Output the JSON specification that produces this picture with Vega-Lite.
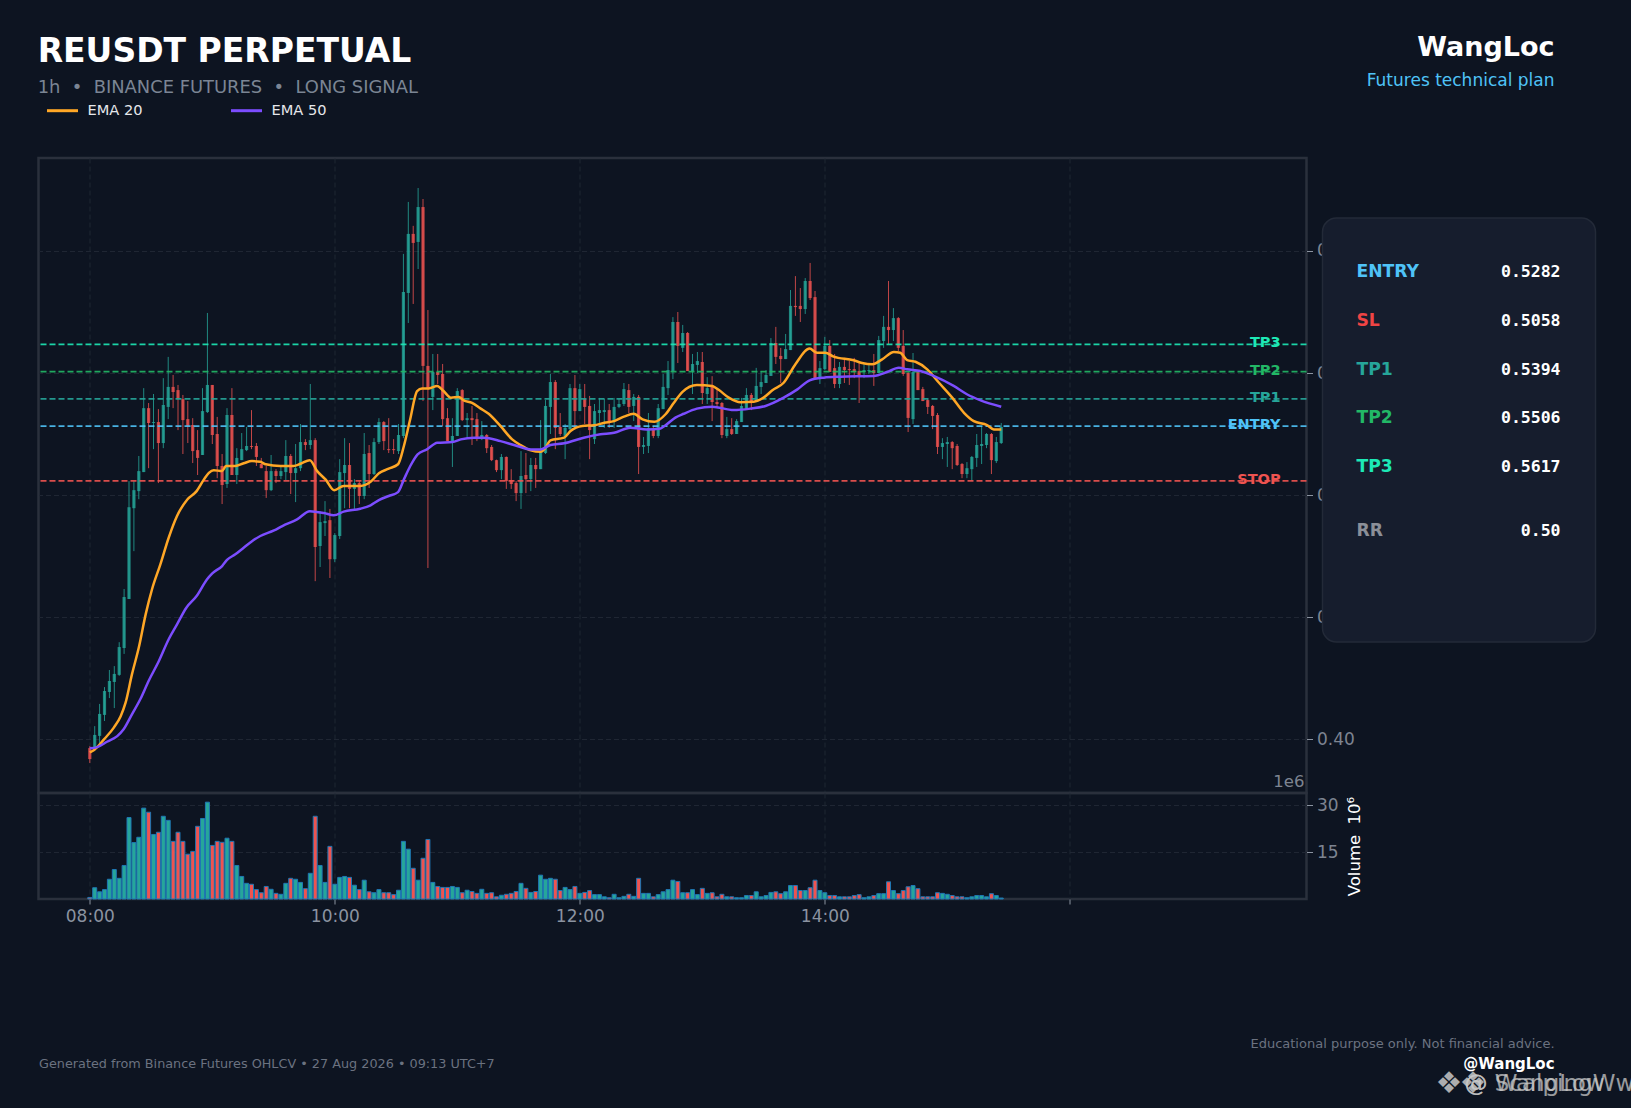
{
  "$schema": "https://vega.github.io/schema/vega-lite/v6.json",
  "background": "#0d1421",
  "padding": {"left": 35.5, "top": 34, "right": 6, "bottom": 7},
  "bounds": "flush",
  "spacing": 1284,
  "config": {
    "font": "DejaVu Sans",
    "view": {"stroke": null},
    "axis": {"domain": false, "gridColor": "#1f2633", "gridDash": [5, 3], "gridWidth": 1, "tickColor": "#8b93a0", "labelColor": "#7d8491", "labelFontSize": 17}
  },
  "datasets": {
    "bars": [
      {"i":0,"o":0.3963,"h":0.3971,"l":0.3902,"c":0.3918,"v":0.5},
      {"i":1,"o":0.3959,"h":0.4053,"l":0.3951,"c":0.4017,"v":3.6},
      {"i":2,"o":0.4013,"h":0.4144,"l":0.3979,"c":0.4103,"v":2.3},
      {"i":3,"o":0.4099,"h":0.4213,"l":0.4074,"c":0.4197,"v":3.0},
      {"i":4,"o":0.4193,"h":0.4283,"l":0.4168,"c":0.4238,"v":6.3},
      {"i":5,"o":0.4234,"h":0.4299,"l":0.4127,"c":0.4267,"v":9.4},
      {"i":6,"o":0.4263,"h":0.4397,"l":0.4259,"c":0.4377,"v":6.6},
      {"i":7,"o":0.4373,"h":0.4615,"l":0.4349,"c":0.4582,"v":10.7},
      {"i":8,"o":0.4574,"h":0.5057,"l":0.4574,"c":0.4950,"v":26},
      {"i":9,"o":0.4946,"h":0.5057,"l":0.4770,"c":0.5020,"v":18},
      {"i":10,"o":0.5016,"h":0.5160,"l":0.4983,"c":0.5098,"v":19.7},
      {"i":11,"o":0.5094,"h":0.5438,"l":0.5094,"c":0.5356,"v":29},
      {"i":12,"o":0.5356,"h":0.5377,"l":0.5110,"c":0.5295,"v":27.7},
      {"i":13,"o":0.5295,"h":0.5414,"l":0.5188,"c":0.5299,"v":20.6},
      {"i":14,"o":0.5299,"h":0.5352,"l":0.5049,"c":0.5213,"v":21.3},
      {"i":15,"o":0.5213,"h":0.5479,"l":0.5192,"c":0.5369,"v":26.4},
      {"i":16,"o":0.5361,"h":0.5566,"l":0.5311,"c":0.5443,"v":25.1},
      {"i":17,"o":0.5443,"h":0.5492,"l":0.5356,"c":0.5422,"v":18.4},
      {"i":18,"o":0.5430,"h":0.5451,"l":0.5266,"c":0.5393,"v":21.3},
      {"i":19,"o":0.5393,"h":0.5410,"l":0.5168,"c":0.5307,"v":18.4},
      {"i":20,"o":0.5311,"h":0.5385,"l":0.5213,"c":0.5283,"v":14.3},
      {"i":21,"o":0.5287,"h":0.5315,"l":0.5131,"c":0.5180,"v":15.2},
      {"i":22,"o":0.5184,"h":0.5266,"l":0.5082,"c":0.5152,"v":23.2},
      {"i":23,"o":0.5164,"h":0.5438,"l":0.5164,"c":0.5344,"v":25.7},
      {"i":24,"o":0.5340,"h":0.5746,"l":0.5336,"c":0.5451,"v":30.9},
      {"i":25,"o":0.5451,"h":0.5451,"l":0.5209,"c":0.5246,"v":17.1},
      {"i":26,"o":0.5250,"h":0.5320,"l":0.5069,"c":0.5119,"v":18.4},
      {"i":27,"o":0.5119,"h":0.5168,"l":0.4963,"c":0.5041,"v":18.1},
      {"i":28,"o":0.5045,"h":0.5356,"l":0.5029,"c":0.5328,"v":19.4},
      {"i":29,"o":0.5328,"h":0.5438,"l":0.5082,"c":0.5082,"v":18.4},
      {"i":30,"o":0.5082,"h":0.5192,"l":0.5045,"c":0.5152,"v":10.7},
      {"i":31,"o":0.5143,"h":0.5254,"l":0.5143,"c":0.5188,"v":7.2},
      {"i":32,"o":0.5184,"h":0.5279,"l":0.5180,"c":0.5201,"v":5},
      {"i":33,"o":0.5201,"h":0.5348,"l":0.5188,"c":0.5197,"v":4.7},
      {"i":34,"o":0.5201,"h":0.5213,"l":0.5119,"c":0.5156,"v":3},
      {"i":35,"o":0.5127,"h":0.5152,"l":0.5110,"c":0.5110,"v":2},
      {"i":36,"o":0.5098,"h":0.5119,"l":0.4988,"c":0.5020,"v":4},
      {"i":37,"o":0.5020,"h":0.5164,"l":0.5016,"c":0.5098,"v":3.1},
      {"i":38,"o":0.5098,"h":0.5106,"l":0.5049,"c":0.5078,"v":1.8},
      {"i":39,"o":0.5078,"h":0.5115,"l":0.5065,"c":0.5098,"v":1.5},
      {"i":40,"o":0.5094,"h":0.5225,"l":0.5061,"c":0.5160,"v":5},
      {"i":41,"o":0.5160,"h":0.5168,"l":0.5004,"c":0.5090,"v":6.6},
      {"i":42,"o":0.5090,"h":0.5209,"l":0.4971,"c":0.5110,"v":6.3},
      {"i":43,"o":0.5110,"h":0.5291,"l":0.5098,"c":0.5217,"v":5.3},
      {"i":44,"o":0.5217,"h":0.5229,"l":0.5184,"c":0.5205,"v":3.3},
      {"i":45,"o":0.5205,"h":0.5455,"l":0.5188,"c":0.5225,"v":8.2},
      {"i":46,"o":0.5225,"h":0.5233,"l":0.4647,"c":0.4787,"v":26.4},
      {"i":47,"o":0.4791,"h":0.4934,"l":0.4705,"c":0.4889,"v":10.7},
      {"i":48,"o":0.4885,"h":0.4975,"l":0.4832,"c":0.4893,"v":5.3},
      {"i":49,"o":0.4897,"h":0.4943,"l":0.4660,"c":0.4737,"v":16.8},
      {"i":50,"o":0.4737,"h":0.4844,"l":0.4725,"c":0.4836,"v":4.7},
      {"i":51,"o":0.4832,"h":0.5147,"l":0.4820,"c":0.5094,"v":6.9},
      {"i":52,"o":0.5090,"h":0.5233,"l":0.4946,"c":0.5123,"v":7.2},
      {"i":53,"o":0.5123,"h":0.5213,"l":0.4946,"c":0.5025,"v":6.9},
      {"i":54,"o":0.5025,"h":0.5065,"l":0.4943,"c":0.5049,"v":4.4},
      {"i":55,"o":0.5049,"h":0.5057,"l":0.4963,"c":0.4996,"v":3},
      {"i":56,"o":0.4996,"h":0.5254,"l":0.4983,"c":0.5168,"v":6},
      {"i":57,"o":0.5172,"h":0.5205,"l":0.5029,"c":0.5086,"v":2.3},
      {"i":58,"o":0.5086,"h":0.5233,"l":0.5082,"c":0.5217,"v":2},
      {"i":59,"o":0.5217,"h":0.5315,"l":0.5209,"c":0.5299,"v":3},
      {"i":60,"o":0.5299,"h":0.5303,"l":0.5184,"c":0.5221,"v":2},
      {"i":61,"o":0.5188,"h":0.5315,"l":0.5172,"c":0.5184,"v":2},
      {"i":62,"o":0.5188,"h":0.5229,"l":0.5168,"c":0.5184,"v":1.4},
      {"i":63,"o":0.5180,"h":0.5291,"l":0.5168,"c":0.5246,"v":2.8},
      {"i":64,"o":0.5242,"h":0.5988,"l":0.5233,"c":0.5832,"v":18.4},
      {"i":65,"o":0.5828,"h":0.6201,"l":0.5705,"c":0.6070,"v":15.9},
      {"i":66,"o":0.6070,"h":0.6103,"l":0.5783,"c":0.6033,"v":9.8},
      {"i":67,"o":0.6037,"h":0.6258,"l":0.5926,"c":0.6180,"v":6},
      {"i":68,"o":0.6180,"h":0.6213,"l":0.5385,"c":0.5529,"v":13},
      {"i":69,"o":0.5529,"h":0.5758,"l":0.4701,"c":0.5438,"v":19},
      {"i":70,"o":0.5402,"h":0.5578,"l":0.5348,"c":0.5504,"v":5.3},
      {"i":71,"o":0.5504,"h":0.5578,"l":0.5455,"c":0.5492,"v":4},
      {"i":72,"o":0.5496,"h":0.5537,"l":0.5283,"c":0.5311,"v":3.7},
      {"i":73,"o":0.5315,"h":0.5356,"l":0.5221,"c":0.5221,"v":3.7},
      {"i":74,"o":0.5221,"h":0.5315,"l":0.5115,"c":0.5242,"v":4},
      {"i":75,"o":0.5242,"h":0.5438,"l":0.5242,"c":0.5426,"v":3.7},
      {"i":76,"o":0.5430,"h":0.5434,"l":0.5303,"c":0.5307,"v":2},
      {"i":77,"o":0.5307,"h":0.5336,"l":0.5233,"c":0.5315,"v":2.8},
      {"i":78,"o":0.5315,"h":0.5365,"l":0.5205,"c":0.5307,"v":2.4},
      {"i":79,"o":0.5311,"h":0.5336,"l":0.5221,"c":0.5229,"v":1.8},
      {"i":80,"o":0.5229,"h":0.5303,"l":0.5225,"c":0.5246,"v":3.1},
      {"i":81,"o":0.5246,"h":0.5250,"l":0.5172,"c":0.5192,"v":1.8},
      {"i":82,"o":0.5197,"h":0.5205,"l":0.5139,"c":0.5143,"v":2},
      {"i":83,"o":0.5143,"h":0.5145,"l":0.5094,"c":0.5102,"v":0.7},
      {"i":84,"o":0.5102,"h":0.5168,"l":0.5065,"c":0.5156,"v":1.2},
      {"i":85,"o":0.5156,"h":0.5158,"l":0.5025,"c":0.5057,"v":1.5},
      {"i":86,"o":0.5061,"h":0.5106,"l":0.5025,"c":0.5045,"v":1.8},
      {"i":87,"o":0.5049,"h":0.5057,"l":0.4975,"c":0.5008,"v":2.4},
      {"i":88,"o":0.5008,"h":0.5180,"l":0.4943,"c":0.5078,"v":5},
      {"i":89,"o":0.5082,"h":0.5172,"l":0.5008,"c":0.5065,"v":3.4},
      {"i":90,"o":0.5065,"h":0.5152,"l":0.5016,"c":0.5123,"v":2.1},
      {"i":91,"o":0.5123,"h":0.5152,"l":0.5029,"c":0.5106,"v":2.4},
      {"i":92,"o":0.5106,"h":0.5307,"l":0.5106,"c":0.5180,"v":7.6},
      {"i":93,"o":0.5172,"h":0.5389,"l":0.5168,"c":0.5365,"v":6.3},
      {"i":94,"o":0.5361,"h":0.5496,"l":0.5250,"c":0.5463,"v":6.6},
      {"i":95,"o":0.5463,"h":0.5471,"l":0.5188,"c":0.5275,"v":6.3},
      {"i":96,"o":0.5279,"h":0.5336,"l":0.5242,"c":0.5250,"v":2.7},
      {"i":97,"o":0.5242,"h":0.5291,"l":0.5147,"c":0.5275,"v":3.7},
      {"i":98,"o":0.5270,"h":0.5455,"l":0.5262,"c":0.5438,"v":3},
      {"i":99,"o":0.5438,"h":0.5492,"l":0.5275,"c":0.5344,"v":4},
      {"i":100,"o":0.5344,"h":0.5455,"l":0.5344,"c":0.5434,"v":1.8},
      {"i":101,"o":0.5393,"h":0.5455,"l":0.5291,"c":0.5361,"v":2.1},
      {"i":102,"o":0.5365,"h":0.5406,"l":0.5147,"c":0.5266,"v":2.7},
      {"i":103,"o":0.5229,"h":0.5373,"l":0.5209,"c":0.5344,"v":1.4},
      {"i":104,"o":0.5336,"h":0.5398,"l":0.5291,"c":0.5348,"v":1.4},
      {"i":105,"o":0.5340,"h":0.5394,"l":0.5275,"c":0.5348,"v":0.7},
      {"i":106,"o":0.5348,"h":0.5373,"l":0.5275,"c":0.5299,"v":0.4},
      {"i":107,"o":0.5303,"h":0.5398,"l":0.5275,"c":0.5361,"v":1.5},
      {"i":108,"o":0.5361,"h":0.5394,"l":0.5356,"c":0.5373,"v":0.4},
      {"i":109,"o":0.5373,"h":0.5459,"l":0.5365,"c":0.5434,"v":0.85},
      {"i":110,"o":0.5430,"h":0.5455,"l":0.5336,"c":0.5361,"v":1.5},
      {"i":111,"o":0.5365,"h":0.5414,"l":0.5303,"c":0.5402,"v":0.85},
      {"i":112,"o":0.5402,"h":0.5410,"l":0.5086,"c":0.5197,"v":6.6},
      {"i":113,"o":0.5197,"h":0.5238,"l":0.5168,"c":0.5205,"v":1.8},
      {"i":114,"o":0.5201,"h":0.5336,"l":0.5172,"c":0.5275,"v":1.8},
      {"i":115,"o":0.5270,"h":0.5283,"l":0.5233,"c":0.5242,"v":0.7},
      {"i":116,"o":0.5242,"h":0.5373,"l":0.5233,"c":0.5356,"v":1.4},
      {"i":117,"o":0.5352,"h":0.5496,"l":0.5352,"c":0.5443,"v":2.3},
      {"i":118,"o":0.5438,"h":0.5549,"l":0.5410,"c":0.5512,"v":3},
      {"i":119,"o":0.5508,"h":0.5729,"l":0.5475,"c":0.5709,"v":6},
      {"i":120,"o":0.5709,"h":0.5750,"l":0.5541,"c":0.5611,"v":5.6},
      {"i":121,"o":0.5603,"h":0.5697,"l":0.5586,"c":0.5664,"v":2},
      {"i":122,"o":0.5664,"h":0.5668,"l":0.5508,"c":0.5508,"v":2},
      {"i":123,"o":0.5508,"h":0.5578,"l":0.5414,"c":0.5537,"v":3},
      {"i":124,"o":0.5533,"h":0.5586,"l":0.5500,"c":0.5549,"v":1.4},
      {"i":125,"o":0.5545,"h":0.5586,"l":0.5373,"c":0.5418,"v":3.4},
      {"i":126,"o":0.5414,"h":0.5483,"l":0.5373,"c":0.5438,"v":1.8},
      {"i":127,"o":0.5451,"h":0.5487,"l":0.5303,"c":0.5381,"v":2},
      {"i":128,"o":0.5381,"h":0.5434,"l":0.5356,"c":0.5373,"v":0.7},
      {"i":129,"o":0.5377,"h":0.5381,"l":0.5233,"c":0.5246,"v":1.5},
      {"i":130,"o":0.5242,"h":0.5320,"l":0.5233,"c":0.5270,"v":0.7},
      {"i":131,"o":0.5270,"h":0.5315,"l":0.5246,"c":0.5250,"v":0.7},
      {"i":132,"o":0.5250,"h":0.5311,"l":0.5250,"c":0.5303,"v":0.4},
      {"i":133,"o":0.5299,"h":0.5398,"l":0.5299,"c":0.5365,"v":0.4},
      {"i":134,"o":0.5352,"h":0.5438,"l":0.5352,"c":0.5410,"v":1.1},
      {"i":135,"o":0.5410,"h":0.5418,"l":0.5348,"c":0.5385,"v":1.1},
      {"i":136,"o":0.5389,"h":0.5521,"l":0.5385,"c":0.5447,"v":2.3},
      {"i":137,"o":0.5443,"h":0.5508,"l":0.5414,"c":0.5463,"v":0.7},
      {"i":138,"o":0.5459,"h":0.5512,"l":0.5459,"c":0.5492,"v":1.1},
      {"i":139,"o":0.5488,"h":0.5643,"l":0.5488,"c":0.5623,"v":2.1},
      {"i":140,"o":0.5623,"h":0.5689,"l":0.5537,"c":0.5566,"v":2.3},
      {"i":141,"o":0.5570,"h":0.5603,"l":0.5459,"c":0.5557,"v":1.7},
      {"i":142,"o":0.5557,"h":0.5660,"l":0.5557,"c":0.5598,"v":2.3},
      {"i":143,"o":0.5594,"h":0.5840,"l":0.5594,"c":0.5775,"v":4.3},
      {"i":144,"o":0.5775,"h":0.5897,"l":0.5734,"c":0.5770,"v":4.3},
      {"i":145,"o":0.5775,"h":0.5848,"l":0.5709,"c":0.5762,"v":2.7},
      {"i":146,"o":0.5762,"h":0.5889,"l":0.5742,"c":0.5877,"v":2.7},
      {"i":147,"o":0.5877,"h":0.5951,"l":0.5799,"c":0.5807,"v":3.6},
      {"i":148,"o":0.5811,"h":0.5836,"l":0.5475,"c":0.5475,"v":6},
      {"i":149,"o":0.5479,"h":0.5549,"l":0.5455,"c":0.5520,"v":2.7},
      {"i":150,"o":0.5516,"h":0.5648,"l":0.5512,"c":0.5611,"v":2},
      {"i":151,"o":0.5611,"h":0.5635,"l":0.5504,"c":0.5504,"v":1.1},
      {"i":152,"o":0.5520,"h":0.5578,"l":0.5438,"c":0.5455,"v":1.1},
      {"i":153,"o":0.5455,"h":0.5545,"l":0.5438,"c":0.5525,"v":0.7},
      {"i":154,"o":0.5525,"h":0.5562,"l":0.5459,"c":0.5512,"v":0.7},
      {"i":155,"o":0.5516,"h":0.5549,"l":0.5451,"c":0.5512,"v":0.7},
      {"i":156,"o":0.5516,"h":0.5562,"l":0.5479,"c":0.5504,"v":1.1},
      {"i":157,"o":0.5508,"h":0.5541,"l":0.5377,"c":0.5488,"v":1.4},
      {"i":158,"o":0.5504,"h":0.5537,"l":0.5479,"c":0.5512,"v":0.4},
      {"i":159,"o":0.5508,"h":0.5541,"l":0.5496,"c":0.5512,"v":0.7},
      {"i":160,"o":0.5512,"h":0.5578,"l":0.5447,"c":0.5500,"v":1.1},
      {"i":161,"o":0.5500,"h":0.5652,"l":0.5500,"c":0.5635,"v":1.7},
      {"i":162,"o":0.5631,"h":0.5734,"l":0.5603,"c":0.5689,"v":1.7},
      {"i":163,"o":0.5689,"h":0.5877,"l":0.5619,"c":0.5676,"v":5.5},
      {"i":164,"o":0.5676,"h":0.5766,"l":0.5631,"c":0.5725,"v":2.7},
      {"i":165,"o":0.5725,"h":0.5729,"l":0.5590,"c":0.5603,"v":1.7},
      {"i":166,"o":0.5611,"h":0.5676,"l":0.5488,"c":0.5496,"v":2.7},
      {"i":167,"o":0.5500,"h":0.5504,"l":0.5258,"c":0.5316,"v":3.9},
      {"i":168,"o":0.5311,"h":0.5582,"l":0.5291,"c":0.5504,"v":4.3},
      {"i":169,"o":0.5504,"h":0.5508,"l":0.5430,"c":0.5430,"v":3.3},
      {"i":170,"o":0.5434,"h":0.5443,"l":0.5385,"c":0.5385,"v":0.7},
      {"i":171,"o":0.5389,"h":0.5394,"l":0.5332,"c":0.5361,"v":0.7},
      {"i":172,"o":0.5365,"h":0.5369,"l":0.5270,"c":0.5324,"v":0.7},
      {"i":173,"o":0.5328,"h":0.5336,"l":0.5168,"c":0.5197,"v":2},
      {"i":174,"o":0.5197,"h":0.5233,"l":0.5147,"c":0.5213,"v":1.8},
      {"i":175,"o":0.5209,"h":0.5238,"l":0.5115,"c":0.5217,"v":1.5},
      {"i":176,"o":0.5217,"h":0.5221,"l":0.5106,"c":0.5192,"v":1.1},
      {"i":177,"o":0.5201,"h":0.5209,"l":0.5119,"c":0.5123,"v":0.7},
      {"i":178,"o":0.5127,"h":0.5131,"l":0.5069,"c":0.5086,"v":0.7},
      {"i":179,"o":0.5086,"h":0.5135,"l":0.5069,"c":0.5110,"v":0.4},
      {"i":180,"o":0.5106,"h":0.5160,"l":0.5057,"c":0.5156,"v":0.7},
      {"i":181,"o":0.5152,"h":0.5250,"l":0.5115,"c":0.5205,"v":1.1},
      {"i":182,"o":0.5201,"h":0.5279,"l":0.5127,"c":0.5209,"v":1.1},
      {"i":183,"o":0.5205,"h":0.5254,"l":0.5192,"c":0.5250,"v":0.7},
      {"i":184,"o":0.5250,"h":0.5254,"l":0.5086,"c":0.5143,"v":1.7},
      {"i":185,"o":0.5139,"h":0.5238,"l":0.5131,"c":0.5217,"v":1.1},
      {"i":186,"o":0.5213,"h":0.5295,"l":0.5209,"c":0.5279,"v":0.3}
    ],
    "ema": [
      {"s":"EMA 20","i":0,"p":0.3945},{"s":"EMA 20","i":0.8,"p":0.3954},{"s":"EMA 20","i":2.9,"p":0.3999},{"s":"EMA 20","i":4.9,"p":0.4047},{"s":"EMA 20","i":6.3,"p":0.4094},{"s":"EMA 20","i":7.3,"p":0.4149},{"s":"EMA 20","i":8.6,"p":0.4265},{"s":"EMA 20","i":10,"p":0.4375},{"s":"EMA 20","i":11.4,"p":0.4511},{"s":"EMA 20","i":12.7,"p":0.4614},{"s":"EMA 20","i":14.4,"p":0.4716},{"s":"EMA 20","i":16.1,"p":0.4825},{"s":"EMA 20","i":17.8,"p":0.4914},{"s":"EMA 20","i":19.9,"p":0.4982},{"s":"EMA 20","i":21.8,"p":0.5016},{"s":"EMA 20","i":23.3,"p":0.5064},{"s":"EMA 20","i":24.3,"p":0.5091},{"s":"EMA 20","i":25.3,"p":0.5102},{"s":"EMA 20","i":27,"p":0.5098},{"s":"EMA 20","i":27.8,"p":0.5119},{"s":"EMA 20","i":29.7,"p":0.5119},{"s":"EMA 20","i":31.4,"p":0.5130},{"s":"EMA 20","i":33.1,"p":0.5139},{"s":"EMA 20","i":34.8,"p":0.5136},{"s":"EMA 20","i":35.9,"p":0.5126},{"s":"EMA 20","i":38.9,"p":0.5119},{"s":"EMA 20","i":41.6,"p":0.5119},{"s":"EMA 20","i":43,"p":0.5128},{"s":"EMA 20","i":44.9,"p":0.5143},{"s":"EMA 20","i":46.4,"p":0.5098},{"s":"EMA 20","i":48.1,"p":0.5064},{"s":"EMA 20","i":49.9,"p":0.5020},{"s":"EMA 20","i":51.8,"p":0.5037},{"s":"EMA 20","i":55.2,"p":0.5037},{"s":"EMA 20","i":57.3,"p":0.5054},{"s":"EMA 20","i":59,"p":0.5089},{"s":"EMA 20","i":61,"p":0.5108},{"s":"EMA 20","i":62.9,"p":0.5126},{"s":"EMA 20","i":64.1,"p":0.5201},{"s":"EMA 20","i":65.3,"p":0.5303},{"s":"EMA 20","i":66.8,"p":0.5426},{"s":"EMA 20","i":67.8,"p":0.5437},{"s":"EMA 20","i":69.2,"p":0.5437},{"s":"EMA 20","i":70.9,"p":0.5447},{"s":"EMA 20","i":72.2,"p":0.5426},{"s":"EMA 20","i":73.7,"p":0.5399},{"s":"EMA 20","i":75.3,"p":0.5402},{"s":"EMA 20","i":76.3,"p":0.5388},{"s":"EMA 20","i":78,"p":0.5378},{"s":"EMA 20","i":79.7,"p":0.5355},{"s":"EMA 20","i":81.4,"p":0.5333},{"s":"EMA 20","i":83.8,"p":0.5283},{"s":"EMA 20","i":86.2,"p":0.5228},{"s":"EMA 20","i":87.9,"p":0.5205},{"s":"EMA 20","i":90,"p":0.5183},{"s":"EMA 20","i":92,"p":0.5177},{"s":"EMA 20","i":93,"p":0.5194},{"s":"EMA 20","i":94,"p":0.5224},{"s":"EMA 20","i":96.8,"p":0.5235},{"s":"EMA 20","i":98.1,"p":0.5262},{"s":"EMA 20","i":100.5,"p":0.5283},{"s":"EMA 20","i":102.9,"p":0.5286},{"s":"EMA 20","i":105,"p":0.5296},{"s":"EMA 20","i":107,"p":0.5303},{"s":"EMA 20","i":109,"p":0.5321},{"s":"EMA 20","i":111,"p":0.5333},{"s":"EMA 20","i":112.8,"p":0.5310},{"s":"EMA 20","i":115.2,"p":0.5300},{"s":"EMA 20","i":117.5,"p":0.5331},{"s":"EMA 20","i":119.2,"p":0.5378},{"s":"EMA 20","i":120.9,"p":0.5422},{"s":"EMA 20","i":123.9,"p":0.5451},{"s":"EMA 20","i":127,"p":0.5447},{"s":"EMA 20","i":128.4,"p":0.5430},{"s":"EMA 20","i":130.4,"p":0.5399},{"s":"EMA 20","i":132.8,"p":0.5380},{"s":"EMA 20","i":135.5,"p":0.5382},{"s":"EMA 20","i":137.5,"p":0.5399},{"s":"EMA 20","i":139.3,"p":0.5429},{"s":"EMA 20","i":141.6,"p":0.5460},{"s":"EMA 20","i":144,"p":0.5536},{"s":"EMA 20","i":146.9,"p":0.5600},{"s":"EMA 20","i":148.4,"p":0.5583},{"s":"EMA 20","i":150.1,"p":0.5583},{"s":"EMA 20","i":151.8,"p":0.5567},{"s":"EMA 20","i":155.9,"p":0.5552},{"s":"EMA 20","i":157.6,"p":0.5541},{"s":"EMA 20","i":159.7,"p":0.5536},{"s":"EMA 20","i":161.7,"p":0.5556},{"s":"EMA 20","i":164.1,"p":0.5586},{"s":"EMA 20","i":165.4,"p":0.5583},{"s":"EMA 20","i":166.8,"p":0.5553},{"s":"EMA 20","i":168.5,"p":0.5546},{"s":"EMA 20","i":170.9,"p":0.5515},{"s":"EMA 20","i":173.3,"p":0.5460},{"s":"EMA 20","i":176,"p":0.5399},{"s":"EMA 20","i":178.4,"p":0.5337},{"s":"EMA 20","i":180.4,"p":0.5303},{"s":"EMA 20","i":183.1,"p":0.5287},{"s":"EMA 20","i":184.5,"p":0.5269},{"s":"EMA 20","i":186,"p":0.5269},
      {"s":"EMA 50","i":0,"p":0.3962},{"s":"EMA 50","i":1.5,"p":0.3967},{"s":"EMA 50","i":3.5,"p":0.3989},{"s":"EMA 50","i":5.6,"p":0.4012},{"s":"EMA 50","i":6.9,"p":0.4040},{"s":"EMA 50","i":8.6,"p":0.4101},{"s":"EMA 50","i":10.3,"p":0.4163},{"s":"EMA 50","i":12,"p":0.4238},{"s":"EMA 50","i":14.1,"p":0.4320},{"s":"EMA 50","i":16.1,"p":0.4409},{"s":"EMA 50","i":17.8,"p":0.4470},{"s":"EMA 50","i":19.7,"p":0.4538},{"s":"EMA 50","i":21.8,"p":0.4586},{"s":"EMA 50","i":23.9,"p":0.4654},{"s":"EMA 50","i":25,"p":0.4679},{"s":"EMA 50","i":27,"p":0.4709},{"s":"EMA 50","i":28,"p":0.4734},{"s":"EMA 50","i":29.7,"p":0.4757},{"s":"EMA 50","i":31.4,"p":0.4784},{"s":"EMA 50","i":33.1,"p":0.4811},{"s":"EMA 50","i":34.8,"p":0.4832},{"s":"EMA 50","i":37.6,"p":0.4855},{"s":"EMA 50","i":39.3,"p":0.4873},{"s":"EMA 50","i":42.3,"p":0.4900},{"s":"EMA 50","i":44.9,"p":0.4934},{"s":"EMA 50","i":47.8,"p":0.4926},{"s":"EMA 50","i":49.8,"p":0.4917},{"s":"EMA 50","i":51.8,"p":0.4932},{"s":"EMA 50","i":55.2,"p":0.4944},{"s":"EMA 50","i":57.3,"p":0.4958},{"s":"EMA 50","i":59,"p":0.4979},{"s":"EMA 50","i":61,"p":0.4996},{"s":"EMA 50","i":62.9,"p":0.5012},{"s":"EMA 50","i":64.1,"p":0.5064},{"s":"EMA 50","i":65.4,"p":0.5119},{"s":"EMA 50","i":66.9,"p":0.5167},{"s":"EMA 50","i":68.8,"p":0.5187},{"s":"EMA 50","i":70.9,"p":0.5214},{"s":"EMA 50","i":74,"p":0.5217},{"s":"EMA 50","i":75.7,"p":0.5228},{"s":"EMA 50","i":78.4,"p":0.5235},{"s":"EMA 50","i":80.4,"p":0.5235},{"s":"EMA 50","i":83.8,"p":0.5221},{"s":"EMA 50","i":87.2,"p":0.5201},{"s":"EMA 50","i":90,"p":0.5187},{"s":"EMA 50","i":92,"p":0.5187},{"s":"EMA 50","i":94,"p":0.5205},{"s":"EMA 50","i":96.8,"p":0.5212},{"s":"EMA 50","i":100.8,"p":0.5235},{"s":"EMA 50","i":104.2,"p":0.5249},{"s":"EMA 50","i":107,"p":0.5255},{"s":"EMA 50","i":110.3,"p":0.5276},{"s":"EMA 50","i":113.7,"p":0.5269},{"s":"EMA 50","i":116.5,"p":0.5273},{"s":"EMA 50","i":117.5,"p":0.5286},{"s":"EMA 50","i":119.5,"p":0.5317},{"s":"EMA 50","i":121.2,"p":0.5333},{"s":"EMA 50","i":123.9,"p":0.5354},{"s":"EMA 50","i":127,"p":0.5362},{"s":"EMA 50","i":131.4,"p":0.5348},{"s":"EMA 50","i":134.8,"p":0.5354},{"s":"EMA 50","i":137.9,"p":0.5365},{"s":"EMA 50","i":141.6,"p":0.5399},{"s":"EMA 50","i":144.4,"p":0.5433},{"s":"EMA 50","i":146.9,"p":0.5470},{"s":"EMA 50","i":149.8,"p":0.5481},{"s":"EMA 50","i":153.2,"p":0.5485},{"s":"EMA 50","i":160,"p":0.5488},{"s":"EMA 50","i":162.7,"p":0.5504},{"s":"EMA 50","i":165.1,"p":0.5522},{"s":"EMA 50","i":166.8,"p":0.5515},{"s":"EMA 50","i":169.5,"p":0.5508},{"s":"EMA 50","i":172.2,"p":0.5488},{"s":"EMA 50","i":176.3,"p":0.5447},{"s":"EMA 50","i":179,"p":0.5413},{"s":"EMA 50","i":181.8,"p":0.5388},{"s":"EMA 50","i":186,"p":0.5362}
    ],
    "levels": [
      {"name":"ENTRY","price":0.5282},
      {"name":"STOP","price":0.5058},
      {"name":"TP1","price":0.5394},
      {"name":"TP2","price":0.5506},
      {"name":"TP3","price":0.5617}
    ],
    "plan": [
      {"name":"ENTRY","val":"0.5282"},
      {"name":"SL","val":"0.5058"},
      {"name":"TP1","val":"0.5394"},
      {"name":"TP2","val":"0.5506"},
      {"name":"TP3","val":"0.5617"}
    ]
  },
  "hconcat": [
    {
      "spacing": 0,
      "bounds": "flush",
      "vconcat": [
        {
          "width": 1268,
          "height": 635,
          "view": {"stroke": "#2a303c", "strokeWidth": 2.5},
          "title": {
            "text": "REUSDT PERPETUAL",
            "subtitle": "1h\u00a0\u00a0•\u00a0\u00a0BINANCE FUTURES\u00a0\u00a0•\u00a0\u00a0LONG SIGNAL",
            "anchor": "start",
            "fontSize": 33,
            "fontWeight": "bold",
            "color": "#ffffff",
            "subtitleFontSize": 17.9,
            "subtitleColor": "#7b8594",
            "subtitlePadding": 10,
            "offset": 61
          },
          "layer": [
            {
              "data": {"name": "bars"},
              "mark": {"type": "rule", "strokeWidth": 1, "opacity": 0.8},
              "encoding": {
                "x": {
                  "field": "i",
                  "type": "quantitative",
                  "scale": {"domain": [-10.47, 248.3], "nice": false, "zero": false, "padding": 0},
                  "axis": {"values": [0, 50, 100, 150, 200], "labels": false, "ticks": false, "title": null, "grid": true}
                },
                "y": {
                  "field": "l",
                  "type": "quantitative",
                  "scale": {"domain": [0.3779, 0.6381], "nice": false, "zero": false},
                  "axis": {"orient": "right", "values": [0.4, 0.45, 0.5, 0.55, 0.6], "format": ".2f", "title": null, "grid": true, "labelPadding": 4, "tickSize": 6}
                },
                "y2": {"field": "h"},
                "color": {"condition": {"test": "datum.c>=datum.o", "value": "#26a69a"}, "value": "#ef5350"}
              }
            },
            {
              "data": {"name": "bars"},
              "mark": {"type": "bar", "size": 3.2, "opacity": 0.8},
              "encoding": {
                "x": {"field": "i", "type": "quantitative"},
                "y": {"field": "o", "type": "quantitative"},
                "y2": {"field": "c"},
                "color": {"condition": {"test": "datum.c>=datum.o", "value": "#26a69a"}, "value": "#ef5350"}
              }
            },
            {
              "data": {"name": "levels"},
              "mark": {"type": "text", "align": "right", "baseline": "middle", "fontWeight": "bold", "fontSize": 14.5, "dy": -1},
              "encoding": {
                "x": {"datum": 243},
                "y": {"field": "price", "type": "quantitative"},
                "text": {"field": "name"},
                "color": {"field": "name", "type": "nominal", "legend": null, "scale": {"domain": ["ENTRY", "STOP", "SL", "TP1", "TP2", "TP3"], "range": ["#4fc3f7", "#ef5350", "#ef4444", "#26a69a", "#22b866", "#1de9b6"]}}
              }
            },
            {
              "data": {"name": "levels"},
              "mark": {"type": "rule", "strokeDash": [6, 3], "strokeWidth": 1.7, "opacity": 0.9},
              "encoding": {
                "y": {"field": "price", "type": "quantitative"},
                "color": {"field": "name", "type": "nominal", "legend": null}
              }
            },
            {
              "data": {"name": "ema"},
              "mark": {"type": "line", "strokeWidth": 2.5, "interpolate": "monotone"},
              "encoding": {
                "x": {"field": "i", "type": "quantitative"},
                "y": {"field": "p", "type": "quantitative"},
                "stroke": {
                  "field": "s",
                  "type": "nominal",
                  "scale": {"domain": ["EMA 20", "EMA 50"], "range": ["#ffa726", "#7c4dff"]},
                  "legend": {
                    "title": null,
                    "orient": "none",
                    "legendX": 7,
                    "legendY": -64.5,
                    "direction": "horizontal",
                    "columns": 2,
                    "columnPadding": 81,
                    "symbolType": "stroke",
                    "symbolSize": 961,
                    "symbolStrokeWidth": 3,
                    "labelFontSize": 14.6,
                    "labelColor": "#e5e7eb",
                    "labelOffset": 8
                  }
                }
              }
            }
          ]
        },
        {
          "width": 1268,
          "height": 106,
          "view": {"stroke": "#2a303c", "strokeWidth": 2.5},
          "title": {"text": "1e6", "anchor": "end", "frame": "group", "fontSize": 16.5, "fontWeight": "normal", "color": "#7d8491", "offset": 3, "dx": -2},
          "data": {"name": "bars"},
          "mark": {"type": "bar", "size": 4, "stroke": "#1f77b4", "strokeWidth": 1},
          "encoding": {
            "x": {
              "field": "i",
              "type": "quantitative",
              "scale": {"domain": [-10.47, 248.3], "nice": false, "zero": false, "padding": 0},
              "axis": {
                "values": [0, 50, 100, 150, 200],
                "labelExpr": "datum.value==0?'08:00':datum.value==50?'10:00':datum.value==100?'12:00':datum.value==150?'14:00':''",
                "labelColor": "#8b93a0",
                "labelPadding": 4,
                "tickSize": 5,
                "grid": true,
                "title": "Generated from Binance Futures OHLCV • 27 Aug 2026 • 09:13 UTC+7",
                "titleAnchor": "start",
                "titleAlign": "left",
                "titleFontSize": 12.8,
                "titleFontWeight": "normal",
                "titleColor": "#6b7280",
                "titlePadding": 133
              }
            },
            "y": {
              "field": "v",
              "type": "quantitative",
              "scale": {"domain": [0, 33.83], "nice": false},
              "axis": {
                "orient": "right",
                "values": [15, 30],
                "grid": true,
                "labelPadding": 4,
                "tickSize": 6,
                "title": "Volume\u00a0\u00a010⁶",
                "titleAngle": 270,
                "titleColor": "#ffffff",
                "titleFontSize": 16.5,
                "titleFontWeight": "normal",
                "titlePadding": 24
              }
            },
            "color": {"condition": {"test": "datum.c>=datum.o", "value": "#26a69a"}, "value": "#ef5350"},
            "stroke": {"value": "#1f77b4"}
          }
        }
      ]
    },
    {
      "spacing": 0,
      "bounds": "flush",
      "vconcat": [
        {
          "width": 273,
          "height": 60,
          "title": {
            "text": "WangLoc",
            "subtitle": "Futures technical plan",
            "anchor": "end",
            "dx": -41,
            "fontSize": 27,
            "fontWeight": "bold",
            "color": "#ffffff",
            "subtitleFontSize": 17,
            "subtitleColor": "#4fc3f7",
            "subtitlePadding": 11,
            "offset": 68
          },
          "data": {"values": [{"a": 1}]},
          "mark": {"type": "text", "opacity": 0},
          "encoding": {"text": {"value": ""}}
        },
        {
          "width": 273,
          "height": 424,
          "view": {"fill": "#161d2d", "stroke": "#232a38", "strokeWidth": 1.5, "cornerRadius": 14},
          "layer": [
            {
              "data": {"name": "plan"},
              "mark": {"type": "text", "align": "left", "baseline": "middle", "fontWeight": "bold", "fontSize": 17.2, "dx": -1},
              "encoding": {
                "x": {"datum": "label", "type": "nominal", "axis": null, "scale": {"type": "point", "domain": ["label", "value"], "padding": 0.172}},
                "y": {"field": "name", "type": "nominal", "axis": null, "scale": {"type": "point", "domain": ["ENTRY", "SL", "TP1", "TP2", "TP3", "RR", "pad1", "pad2"], "padding": 0.85, "align": 0.653}},
                "text": {"field": "name"},
                "color": {"field": "name", "type": "nominal", "legend": null}
              }
            },
            {
              "data": {"name": "plan"},
              "mark": {"type": "text", "align": "right", "baseline": "middle", "fontWeight": "bold", "fontSize": 16.5, "font": "DejaVu Sans Mono", "color": "#ffffff"},
              "encoding": {
                "x": {"datum": "value", "type": "nominal"},
                "y": {"field": "name", "type": "nominal"},
                "text": {"field": "val"}
              }
            },
            {
              "data": {"values": [{"name": "RR", "val": "0.50"}]},
              "mark": {"type": "text", "align": "left", "baseline": "middle", "fontWeight": "bold", "fontSize": 17.2, "color": "#8b8f98", "dx": -1, "dy": 15},
              "encoding": {
                "x": {"datum": "label", "type": "nominal"},
                "y": {"field": "name", "type": "nominal"},
                "text": {"field": "name"}
              }
            },
            {
              "data": {"values": [{"name": "RR", "val": "0.50"}]},
              "mark": {"type": "text", "align": "right", "baseline": "middle", "fontWeight": "bold", "fontSize": 16.5, "font": "DejaVu Sans Mono", "color": "#ffffff", "dy": 15},
              "encoding": {
                "x": {"datum": "value", "type": "nominal"},
                "y": {"field": "name", "type": "nominal"},
                "text": {"field": "val"}
              }
            }
          ]
        },
        {
          "width": 273,
          "height": 459,
          "layer": [
            {
              "data": {"values": [{"t": "Educational purpose only. Not financial advice."}]},
              "mark": {"type": "text", "align": "right", "baseline": "middle", "fontSize": 13, "color": "#6b7280", "dx": -6},
              "encoding": {
                "x": {"datum": "right", "type": "nominal", "axis": null, "scale": {"type": "point", "domain": ["left", "right"], "padding": 0.172}},
                "y": {"datum": 0, "type": "quantitative", "axis": null, "scale": {"domain": [-20.1, 2.85], "reverse": true, "nice": false, "zero": false}},
                "text": {"field": "t"}
              }
            },
            {
              "data": {"values": [{"t": "@WangLoc"}]},
              "mark": {"type": "text", "align": "right", "baseline": "middle", "fontSize": 15, "fontWeight": "bold", "color": "#ffffff", "dx": -6},
              "encoding": {
                "x": {"datum": "right", "type": "nominal"},
                "y": {"datum": 1, "type": "quantitative"},
                "text": {"field": "t"}
              }
            },
            {
              "data": {"values": [{"t": "❖"}]},
              "mark": {"type": "text", "align": "left", "baseline": "middle", "fontSize": 30, "color": "#c8c8c8", "opacity": 0.85, "dx": 78},
              "encoding": {
                "x": {"datum": "left", "type": "nominal"},
                "y": {"datum": 2, "type": "quantitative"},
                "text": {"field": "t"}
              }
            },
            {
              "data": {"values": [{"t": "❖"}]},
              "mark": {"type": "text", "align": "left", "baseline": "middle", "fontSize": 30, "color": "#c8c8c8", "opacity": 0.85, "dx": 102},
              "encoding": {
                "x": {"datum": "left", "type": "nominal"},
                "y": {"datum": 2, "type": "quantitative"},
                "text": {"field": "t"}
              }
            },
            {
              "data": {"values": [{"t": "@ WangLow"}]},
              "mark": {"type": "text", "align": "left", "baseline": "middle", "fontSize": 23, "color": "#c8c8c8", "opacity": 0.75, "dx": 107},
              "encoding": {
                "x": {"datum": "left", "type": "nominal"},
                "y": {"datum": 2, "type": "quantitative"},
                "text": {"field": "t"}
              }
            },
            {
              "data": {"values": [{"t": "@ ScalpingWw"}]},
              "mark": {"type": "text", "align": "left", "baseline": "middle", "fontSize": 23, "color": "#c8c8c8", "opacity": 0.75, "dx": 107},
              "encoding": {
                "x": {"datum": "left", "type": "nominal"},
                "y": {"datum": 2, "type": "quantitative"},
                "text": {"field": "t"}
              }
            }
          ]
        }
      ]
    }
  ]
}
